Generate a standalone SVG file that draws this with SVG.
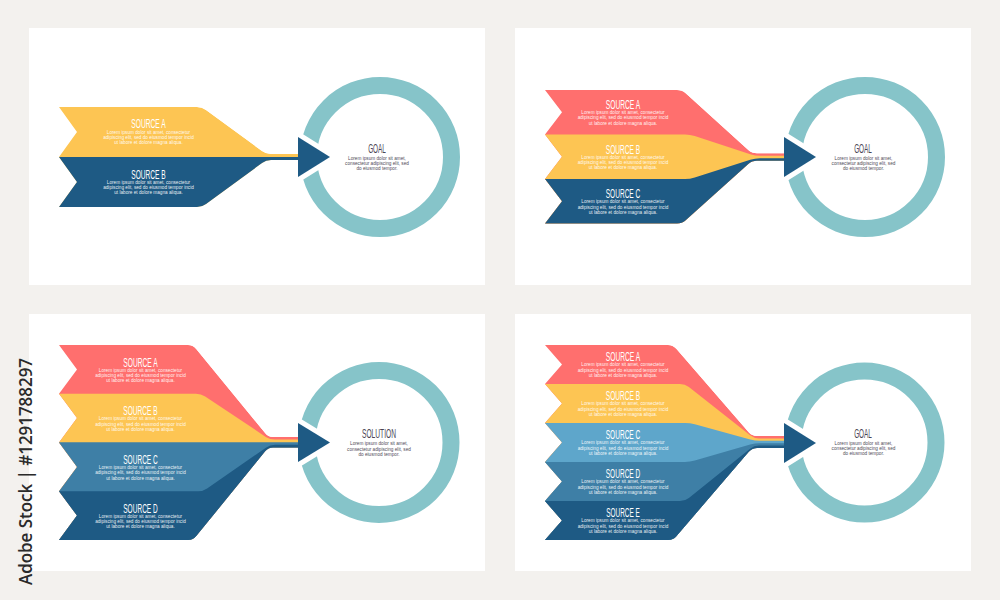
<svg xmlns="http://www.w3.org/2000/svg" width="1000" height="600" viewBox="0 0 1000 600">
<defs>
<style>
.bg{fill:#F3F1EE}
.panel{fill:#FFFFFF}
.ring{fill:none;stroke:#86C4C9;stroke-width:17}
.halo{fill:#FFFFFF;stroke:#FFFFFF;stroke-width:10;stroke-linejoin:miter}
.tri{fill:#1E5A84}
.red{fill:#FF6F6E}
.yel{fill:#FDC553}
.dk{fill:#1E5A84}
.md{fill:#3E7FA6}
.lt{fill:#5EA6CB}
.t{font-family:"Liberation Sans",Arial,sans-serif;font-size:12.5px;fill:#FFFFFF;text-anchor:middle}
.b{font-family:"Liberation Sans",Arial,sans-serif;font-size:4.7px;fill:#FFFFFF;fill-opacity:0.92;text-anchor:middle}
.gt{font-family:"Liberation Sans",Arial,sans-serif;font-size:12.5px;fill:#4A4453;text-anchor:middle}
.gb{font-family:"Liberation Sans",Arial,sans-serif;font-size:4.7px;fill:#4F4A57;text-anchor:middle}
.side{font-family:"Open Sans","Liberation Sans",sans-serif;font-size:18px;font-weight:600;fill:#2A2A2A}
</style>
<clipPath id="c1"><path d="M59,107 H197 Q202,107 206,110 L262,151 Q266,154 271,154 H300 V160 H271 Q266,160 262,163 L206,204 Q202,207 197,207 H59 L77,182 L59,157 L77,132 Z"/></clipPath>
<clipPath id="c2"><path d="M545,90 H677 Q682,90 685.7,93.3 L748.3,150 Q752,153.25 757,153.25 H786 V160.75 H757 Q752,160.75 748.3,164 L685.7,220.2 Q682,223.5 677,223.5 H545 L562,201.25 L545,179 L562,156.75 L545,134.5 L562,112.25 Z"/></clipPath>
<clipPath id="c3"><path d="M59,345 H188 Q193,345 196.2,348.9 L265.1,433.1 Q268,437 273,437 H300 V447.4 H273 Q268,447.4 265.1,451.3 L196.2,536.1 Q193,540 188,540 H59 L77,515.6 L59,491.25 L77,466.9 L59,442.5 L77,418.1 L59,393.75 L77,369.4 Z"/></clipPath>
<clipPath id="c4"><path d="M545,345 H668 Q673,345 676.3,348.8 L748.7,432.2 Q752,436 757,436 H786 V448 H757 Q752,448 748.7,451.8 L676.3,536.2 Q673,540 668,540 H545 L562,520.5 L545,501 L562,481.5 L545,462 L562,442.5 L545,423 L562,403.5 L545,384 L562,364.5 Z"/></clipPath>
</defs>

<rect class="bg" x="0" y="0" width="1000" height="600"/>
<rect class="panel" x="29" y="28" width="456" height="257"/>
<rect class="panel" x="515" y="28" width="456" height="257"/>
<rect class="panel" x="29" y="314" width="456" height="257"/>
<rect class="panel" x="515" y="314" width="456" height="257"/>

<text class="side" transform="translate(32,585) rotate(-90)" textLength="227" lengthAdjust="spacingAndGlyphs">Adobe Stock | #1291788297</text>

<!-- ===== Panel 1 ===== -->
<g id="p1-goal">
<circle class="ring" cx="380" cy="157" r="71.5"/>
<polygon class="halo" points="298,137 330,157 298,177"/>
<text class="gt" x="377" y="152.5" textLength="17.7" lengthAdjust="spacingAndGlyphs">GOAL</text>
<text class="gb"><tspan x="377" y="159.6">Lorem ipsum dolor sit amet,</tspan><tspan x="377" y="164.9">consectetur adipiscing elit, sed</tspan><tspan x="377" y="170.2">do eiusmod tempor.</tspan></text>
</g>
<g clip-path="url(#c1)">
<g id="p1-source-a">
<path class="yel" d="M50,107 H197 Q202,107 206,110 L262,151 Q266,154 271,154 H300 V215 H50 Z"/>
</g>
<g id="p1-source-b">
<path class="dk" d="M50,157 H300 V215 H50 Z"/>
</g>
</g>
<g id="p1-source-a-text">
<text class="t" x="148.5" y="128.3" textLength="34.5" lengthAdjust="spacingAndGlyphs">SOURCE A</text>
<text class="b"><tspan x="148.5" y="133.5">Lorem ipsum dolor sit amet, consectetur</tspan><tspan x="148.5" y="138.8">adipiscing elit, sed do eiusmod tempor incid</tspan><tspan x="148.5" y="144.1">ut labore et dolore magna aliqua.</tspan></text>
</g>
<g id="p1-source-b-text">
<text class="t" x="148.5" y="178.5" textLength="34.5" lengthAdjust="spacingAndGlyphs">SOURCE B</text>
<text class="b"><tspan x="148.5" y="183.6">Lorem ipsum dolor sit amet, consectetur</tspan><tspan x="148.5" y="188.9">adipiscing elit, sed do eiusmod tempor incid</tspan><tspan x="148.5" y="194.2">ut labore et dolore magna aliqua.</tspan></text>
</g>
<g id="p1-connectors">
<polygon class="tri" points="298,137 330,157 298,177"/>
</g>

<!-- ===== Panel 2 ===== -->
<g id="p2-goal">
<circle class="ring" cx="865" cy="157" r="71.5"/>
<polygon class="halo" points="784,137 816,157 784,177"/>
<text class="gt" x="863" y="152.7" textLength="17.7" lengthAdjust="spacingAndGlyphs">GOAL</text>
<text class="gb"><tspan x="863.5" y="159.7">Lorem ipsum dolor sit amet,</tspan><tspan x="863.5" y="165">consectetur adipiscing elit, sed</tspan><tspan x="863.5" y="170.3">do eiusmod tempor.</tspan></text>
</g>
<g clip-path="url(#c2)">
<g id="p2-source-a">
<path class="red" d="M535,90 H677 Q682,90 685.7,93.3 L748.3,150 Q752,153.25 757,153.25 H786 V230 H535 Z"/>
</g>
<g id="p2-source-b">
<path class="yel" d="M535,134.5 H685 Q690,134.5 694.75,136.05 L750.25,154.2 Q755,155.75 760,155.75 H786 V230 H535 Z"/>
</g>
<g id="p2-source-c">
<path class="dk" d="M535,179 H685 Q690,179 694.75,177.5 L750.25,159.8 Q755,158.25 760,158.25 H786 V230 H535 Z"/>
</g>
</g>
<g id="p2-source-a-text">
<text class="t" x="623" y="109" textLength="34.5" lengthAdjust="spacingAndGlyphs">SOURCE A</text>
<text class="b"><tspan x="623" y="114.1">Lorem ipsum dolor sit amet, consectetur</tspan><tspan x="623" y="119.4">adipiscing elit, sed do eiusmod tempor incid</tspan><tspan x="623" y="124.7">ut labore et dolore magna aliqua.</tspan></text>
</g>
<g id="p2-source-b-text">
<text class="t" x="623" y="153.6" textLength="34.5" lengthAdjust="spacingAndGlyphs">SOURCE B</text>
<text class="b"><tspan x="623" y="158.7">Lorem ipsum dolor sit amet, consectetur</tspan><tspan x="623" y="164">adipiscing elit, sed do eiusmod tempor incid</tspan><tspan x="623" y="169.3">ut labore et dolore magna aliqua.</tspan></text>
</g>
<g id="p2-source-c-text">
<text class="t" x="623" y="198.2" textLength="34.5" lengthAdjust="spacingAndGlyphs">SOURCE C</text>
<text class="b"><tspan x="623" y="203.3">Lorem ipsum dolor sit amet, consectetur</tspan><tspan x="623" y="208.6">adipiscing elit, sed do eiusmod tempor incid</tspan><tspan x="623" y="213.9">ut labore et dolore magna aliqua.</tspan></text>
</g>
<g id="p2-connectors">
<polygon class="tri" points="784,137 816,157 784,177"/>
</g>

<!-- ===== Panel 3 ===== -->
<g id="p3-solution">
<circle class="ring" cx="379" cy="442.5" r="72"/>
<polygon class="halo" points="298,423 330,442.5 298,462"/>
<text class="gt" x="379" y="438.3" textLength="34" lengthAdjust="spacingAndGlyphs">SOLUTION</text>
<text class="gb"><tspan x="379" y="445.3">Lorem ipsum dolor sit amet,</tspan><tspan x="379" y="450.6">consectetur adipiscing elit, sed</tspan><tspan x="379" y="455.9">do eiusmod tempor.</tspan></text>
</g>
<g clip-path="url(#c3)">
<g id="p3-source-a">
<path class="red" d="M50,345 H188 Q193,345 196.2,348.9 L265.1,433.1 Q268,437 273,437 H300 V550 H50 Z"/>
</g>
<g id="p3-source-b">
<path class="yel" d="M50,393.75 H196 Q201,393.75 205.2,396.45 L265.8,436.9 Q270,439.6 275,439.6 H300 V550 H50 Z"/>
</g>
<g id="p3-source-c">
<path class="md" d="M50,442.3 H300 V550 H50 Z"/>
</g>
<g id="p3-source-d">
<path class="dk" d="M50,491.25 H198 Q203,491.25 207.1,488.4 L265.9,447.65 Q270,444.8 275,444.8 H300 V550 H50 Z"/>
</g>
</g>
<g id="p3-source-a-text">
<text class="t" x="140.5" y="366.6" textLength="34.5" lengthAdjust="spacingAndGlyphs">SOURCE A</text>
<text class="b"><tspan x="140.5" y="371.6">Lorem ipsum dolor sit amet, consectetur</tspan><tspan x="140.5" y="376.9">adipiscing elit, sed do eiusmod tempor incid</tspan><tspan x="140.5" y="382.2">ut labore et dolore magna aliqua.</tspan></text>
</g>
<g id="p3-source-b-text">
<text class="t" x="140.5" y="415.3" textLength="34.5" lengthAdjust="spacingAndGlyphs">SOURCE B</text>
<text class="b"><tspan x="140.5" y="420.3">Lorem ipsum dolor sit amet, consectetur</tspan><tspan x="140.5" y="425.6">adipiscing elit, sed do eiusmod tempor incid</tspan><tspan x="140.5" y="430.9">ut labore et dolore magna aliqua.</tspan></text>
</g>
<g id="p3-source-c-text">
<text class="t" x="140.5" y="464.1" textLength="34.5" lengthAdjust="spacingAndGlyphs">SOURCE C</text>
<text class="b"><tspan x="140.5" y="469.1">Lorem ipsum dolor sit amet, consectetur</tspan><tspan x="140.5" y="474.4">adipiscing elit, sed do eiusmod tempor incid</tspan><tspan x="140.5" y="479.7">ut labore et dolore magna aliqua.</tspan></text>
</g>
<g id="p3-source-d-text">
<text class="t" x="140.5" y="512.8" textLength="34.5" lengthAdjust="spacingAndGlyphs">SOURCE D</text>
<text class="b"><tspan x="140.5" y="517.8">Lorem ipsum dolor sit amet, consectetur</tspan><tspan x="140.5" y="523.1">adipiscing elit, sed do eiusmod tempor incid</tspan><tspan x="140.5" y="528.4">ut labore et dolore magna aliqua.</tspan></text>
</g>
<g id="p3-connectors">
<polygon class="tri" points="298,423 330,442.5 298,462"/>
</g>

<!-- ===== Panel 4 ===== -->
<g id="p4-goal">
<circle class="ring" cx="864.5" cy="442.5" r="71.5"/>
<polygon class="halo" points="784,423 816,443 784,463"/>
<text class="gt" x="863" y="437.7" textLength="17.7" lengthAdjust="spacingAndGlyphs">GOAL</text>
<text class="gb"><tspan x="863.5" y="444.7">Lorem ipsum dolor sit amet,</tspan><tspan x="863.5" y="450">consectetur adipiscing elit, sed</tspan><tspan x="863.5" y="455.3">do eiusmod tempor.</tspan></text>
</g>
<g clip-path="url(#c4)">
<g id="p4-source-a">
<path class="red" d="M535,345 H668 Q673,345 676.3,348.8 L748.7,432.2 Q752,436 757,436 H786 V550 H535 Z"/>
</g>
<g id="p4-source-b">
<path class="yel" d="M535,384 H680 Q685,384 688.9,387.1 L750.1,435.3 Q754,438.4 759,438.4 H786 V550 H535 Z"/>
</g>
<g id="p4-source-c">
<path class="lt" d="M535,423 H685 Q690,423 694.8,424.3 L750.2,439.5 Q755,440.8 760,440.8 H786 V550 H535 Z"/>
</g>
<g id="p4-source-d">
<path class="md" d="M535,462 H685 Q690,462 694.8,460.6 L750.2,444.6 Q755,443.2 760,443.2 H786 V550 H535 Z"/>
</g>
<g id="p4-source-e">
<path class="dk" d="M535,501 H680 Q685,501 688.9,497.9 L750.1,448.7 Q754,445.6 759,445.6 H786 V550 H535 Z"/>
</g>
</g>
<g id="p4-source-a-text">
<text class="t" x="623" y="360.6" textLength="34.5" lengthAdjust="spacingAndGlyphs">SOURCE A</text>
<text class="b"><tspan x="623" y="366.3">Lorem ipsum dolor sit amet, consectetur</tspan><tspan x="623" y="371.6">adipiscing elit, sed do eiusmod tempor incid</tspan><tspan x="623" y="376.9">ut labore et dolore magna aliqua.</tspan></text>
</g>
<g id="p4-source-b-text">
<text class="t" x="623" y="399.6" textLength="34.5" lengthAdjust="spacingAndGlyphs">SOURCE B</text>
<text class="b"><tspan x="623" y="405.3">Lorem ipsum dolor sit amet, consectetur</tspan><tspan x="623" y="410.6">adipiscing elit, sed do eiusmod tempor incid</tspan><tspan x="623" y="415.9">ut labore et dolore magna aliqua.</tspan></text>
</g>
<g id="p4-source-c-text">
<text class="t" x="623" y="438.6" textLength="34.5" lengthAdjust="spacingAndGlyphs">SOURCE C</text>
<text class="b"><tspan x="623" y="444.3">Lorem ipsum dolor sit amet, consectetur</tspan><tspan x="623" y="449.6">adipiscing elit, sed do eiusmod tempor incid</tspan><tspan x="623" y="454.9">ut labore et dolore magna aliqua.</tspan></text>
</g>
<g id="p4-source-d-text">
<text class="t" x="623" y="477.6" textLength="34.5" lengthAdjust="spacingAndGlyphs">SOURCE D</text>
<text class="b"><tspan x="623" y="483.3">Lorem ipsum dolor sit amet, consectetur</tspan><tspan x="623" y="488.6">adipiscing elit, sed do eiusmod tempor incid</tspan><tspan x="623" y="493.9">ut labore et dolore magna aliqua.</tspan></text>
</g>
<g id="p4-source-e-text">
<text class="t" x="623" y="516.6" textLength="33.5" lengthAdjust="spacingAndGlyphs">SOURCE E</text>
<text class="b"><tspan x="623" y="522.3">Lorem ipsum dolor sit amet, consectetur</tspan><tspan x="623" y="527.6">adipiscing elit, sed do eiusmod tempor incid</tspan><tspan x="623" y="532.9">ut labore et dolore magna aliqua.</tspan></text>
</g>
<g id="p4-connectors">
<polygon class="tri" points="784,423 816,443 784,463"/>
</g>
</svg>
